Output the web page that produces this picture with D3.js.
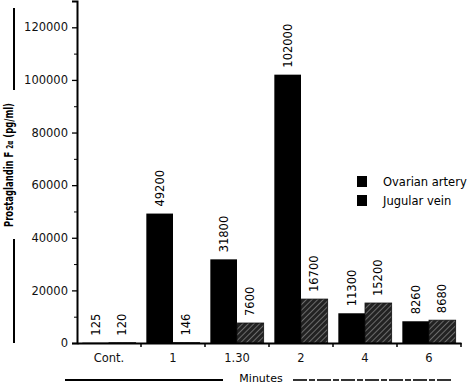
<!DOCTYPE html>
<html>
<head>
<meta charset="utf-8">
<script src="https://cdn.jsdelivr.net/npm/d3@7"></script>
<style>
  body { margin: 0; background: #fff; }
  svg { display: block; font-family: "DejaVu Sans", sans-serif; }
</style>
</head>
<body>
<svg width="474" height="386"></svg>
<script>
var categories = ["Cont.", "1", "1.30", "2", "4", "6"];
var ovarian = [125, 49200, 31800, 102000, 11300, 8260];
var jugular = [120, 146, 7600, 16700, 15200, 8680];
var yTicks = [0, 20000, 40000, 60000, 80000, 100000, 120000];
var series = ["Ovarian artery", "Jugular vein"];

var svg = d3.select("svg");

var x = d3.scaleBand().domain(categories).range([77, 461]).padding(0);
var sub = d3.scaleBand().domain([0, 1]).range([0, x.bandwidth()]).paddingInner(0).paddingOuter(0.2);
var y = d3.scaleLinear().domain([0, 130000]).range([343, 1]);

// hatch pattern for jugular vein
var defs = svg.append("defs");
var pat = defs.append("pattern")
    .attr("id", "hatch")
    .attr("patternUnits", "userSpaceOnUse")
    .attr("width", 4).attr("height", 4)
    .attr("patternTransform", "rotate(45)");
pat.append("rect").attr("width", 4).attr("height", 4).attr("fill", "#222");
pat.append("line").attr("x1", 0).attr("y1", 0).attr("x2", 0).attr("y2", 4)
    .attr("stroke", "#a8a8a8").attr("stroke-width", 1.1);

var rows = categories.map(function (c, i) {
    return [{cat: c, s: 0, v: ovarian[i]}, {cat: c, s: 1, v: jugular[i]}];
});
var flat = [].concat.apply([], rows);

// bars
svg.append("g").selectAll("rect")
    .data(flat)
    .enter().append("rect")
    .attr("x", function (d) { return x(d.cat) + sub(d.s); })
    .attr("width", sub.bandwidth())
    .attr("y", function (d) { return y(d.v); })
    .attr("height", function (d) { return y(0) - y(d.v); })
    .attr("fill", function (d) { return d.s === 0 ? "#000" : "url(#hatch)"; })
    .attr("stroke", function (d) { return d.s === 0 ? "none" : "#111"; })
    .attr("stroke-width", 0.8);

// value labels
svg.append("g").selectAll("text")
    .data(flat)
    .enter().append("text")
    .attr("transform", function (d) {
        var cx = x(d.cat) + sub(d.s) + sub.bandwidth() / 2;
        return "translate(" + (cx + 4) + "," + (y(d.v) - 7) + ") rotate(-90)";
    })
    .attr("font-size", 11.5)
    .attr("fill", "#000")
    .text(function (d) { return d.v; });

// y axis
var yAxis = svg.append("g")
    .attr("transform", "translate(77,0)")
    .call(d3.axisLeft(y).tickValues(yTicks).tickSize(5).tickPadding(4).tickFormat(d3.format("d")));
yAxis.select(".domain").attr("stroke-width", 2);
yAxis.selectAll(".tick line").attr("stroke-width", 1.3);
yAxis.selectAll("text").attr("font-size", 11.5).attr("font-family", "DejaVu Sans").attr("fill", "#111");

svg.append("g")
    .attr("transform", "translate(77,0)")
    .call(d3.axisLeft(y).tickValues(d3.range(10000, 130001, 20000)).tickSize(3).tickFormat(""))
    .select(".domain").remove();

// x axis
var xAxis = svg.append("g")
    .attr("transform", "translate(0,343)")
    .call(d3.axisBottom(x).tickSize(0).tickPadding(11));
xAxis.select(".domain").attr("stroke-width", 2);
xAxis.selectAll("text").attr("font-size", 11.5).attr("font-family", "DejaVu Sans").attr("fill", "#111");

svg.append("g").selectAll("line")
    .data(categories.slice(1).concat(["end"]))
    .enter().append("line")
    .attr("x1", function (d) { return d === "end" ? x.range()[1] : x(d); })
    .attr("x2", function (d) { return d === "end" ? x.range()[1] : x(d); })
    .attr("y1", 343).attr("y2", 347)
    .attr("stroke", "#000").attr("stroke-width", 1.5);

// y label with bracket lines
svg.append("line").attr("x1", 14).attr("x2", 14).attr("y1", 8).attr("y2", 90)
    .attr("stroke", "#000").attr("stroke-width", 2);
svg.append("line").attr("x1", 14).attr("x2", 14).attr("y1", 239).attr("y2", 343)
    .attr("stroke", "#000").attr("stroke-width", 2);
var yl = svg.append("text")
    .attr("transform", "translate(13,165) rotate(-90)")
    .attr("text-anchor", "middle")
    .attr("font-size", 13)
    .attr("font-weight", "bold")
    .attr("textLength", 124)
    .attr("lengthAdjust", "spacingAndGlyphs")
    .attr("fill", "#000");
yl.append("tspan").text("Prostaglandin F ");
yl.append("tspan").attr("font-size", 9).text("2α");
yl.append("tspan").text(" (pg/ml)");

// x label with bracket lines
svg.append("line").attr("x1", 65).attr("x2", 223).attr("y1", 380).attr("y2", 380)
    .attr("stroke", "#000").attr("stroke-width", 1.8);
svg.append("line").attr("x1", 293).attr("x2", 453).attr("y1", 380).attr("y2", 380)
    .attr("stroke", "#333").attr("stroke-width", 1.8).attr("stroke-dasharray", "14,2,6,2");
svg.append("text")
    .attr("x", 261).attr("y", 382)
    .attr("text-anchor", "middle")
    .attr("font-size", 11)
    .attr("fill", "#000")
    .text("Minutes");

// legend
var leg = svg.append("g").selectAll("g")
    .data(series)
    .enter().append("g")
    .attr("transform", function (d, i) { return "translate(357," + (176 + i * 19) + ")"; });
leg.append("rect").attr("width", 10).attr("height", 11).attr("fill", "#000");
leg.append("text").attr("x", 26).attr("y", 10)
    .attr("font-size", 11.5).attr("fill", "#000")
    .text(function (d) { return d; });
</script>
</body>
</html>
